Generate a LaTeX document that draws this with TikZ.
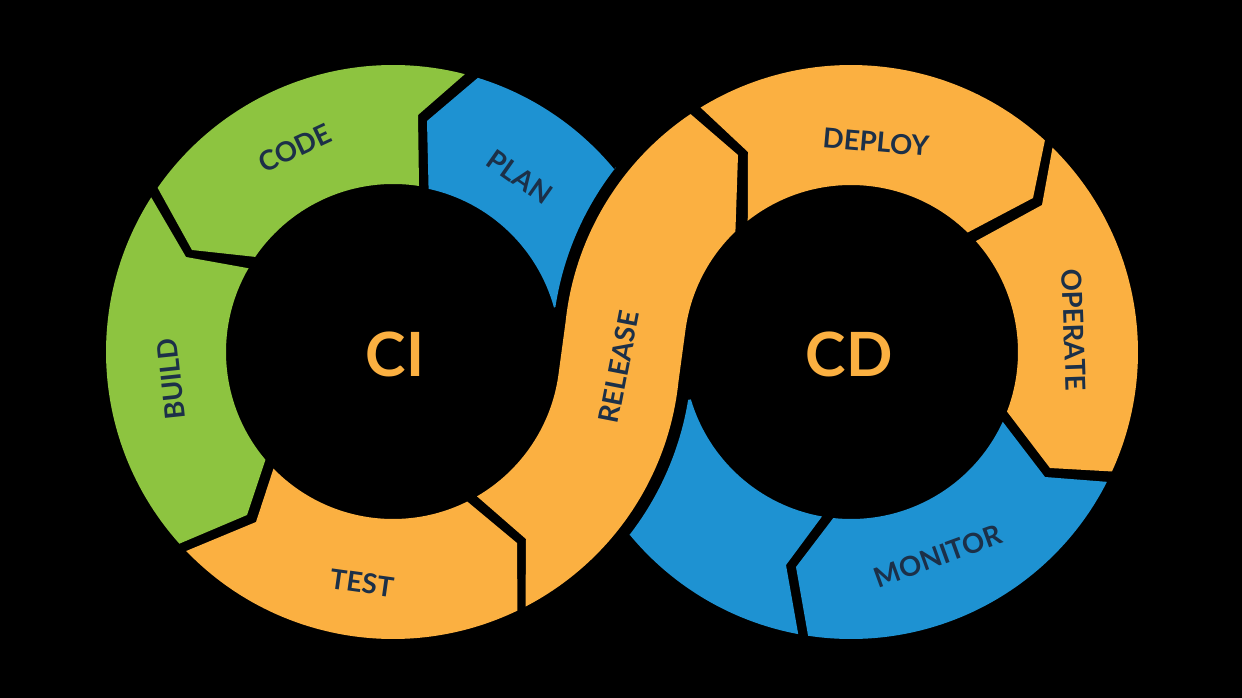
\documentclass[tikz,border=0pt]{standalone}
\usepackage{fontspec}
\setmainfont{Lato}[BoldFont={Lato Bold}]

\definecolor{leafgreen}{RGB}{141,196,64}
\definecolor{skyblue}{RGB}{30,146,210}
\definecolor{amber}{RGB}{251,176,65}
\definecolor{navy}{RGB}{28,48,72}

\begin{document}
\begin{tikzpicture}[x=1pt,y=-1pt]

\tikzset{
  SegLabel/.style = { text = navy, inner sep = 0pt, font = \fontsize{27.5}{27.5}\selectfont\bfseries },
  RingLabel/.style = { text = amber, inner sep = 0pt, font = \fontsize{61}{61}\selectfont\bfseries } }

  \def\Ro{287}
  \def\Ri{167}
  \def\Rg{299}

  \fill[black] (0, 0) rectangle (1242, 698);

  \coordinate (ci) at (393, 352);
  \coordinate (cd) at (851, 352);

  % left ring
  \fill[leafgreen] ([shift={(214.9:\Ro)}]ci) arc[start angle=214.9, end angle=284.5, radius=\Ro]
    -- (418, 115) -- (419, 186)
    arc[start angle=278.9, end angle=214.3, radius=\Ri]
    -- (192, 250) -- cycle;
  \fill[skyblue] ([shift={(287.2:\Ro)}]ci) arc[start angle=287.2, end angle=320.5, radius=\Ro]
    -- ([shift={(218.2:\Rg)}]cd) arc[start angle=218.2, end angle=188.7, radius=\Rg]
    -- ([shift={(344.6:\Ri)}]ci) arc[start angle=344.6, end angle=282.3, radius=\Ri]
    -- (427, 121) -- cycle;
  \fill[leafgreen] ([shift={(138.1:\Ro)}]ci) arc[start angle=138.1, end angle=212.6, radius=\Ro]
    -- (186, 257) -- ([shift={(210.1:\Ri)}]ci) arc[start angle=210.1, end angle=139.8, radius=\Ri]
    -- (247, 515) -- cycle;
  \fill[amber] ([shift={(64.3:\Ro)}]ci) arc[start angle=64.3, end angle=136.1, radius=\Ro]
    -- (256, 522) -- ([shift={(135.7:\Ri)}]ci) arc[start angle=135.7, end angle=63.6, radius=\Ri]
    -- (517, 543) -- cycle;

  % s-shaped part
  \fill[amber] ([shift={(59.8:\Ri)}]ci) arc[start angle=59.8, end angle=8, radius=\Ri]
    -- ([shift={(186:\Ro)}]cd) arc[start angle=186, end angle=236, radius=\Ro]
    -- (738, 155) -- ([shift={(226.2:\Ri)}]cd) arc[start angle=226.2, end angle=188, radius=\Ri]
    -- ([shift={(6:\Ro)}]ci) arc[start angle=6, end angle=62.5, radius=\Ro]
    -- (526, 539) -- cycle;

  % right ring
  \fill[amber] ([shift={(238.4:\Ro)}]cd) arc[start angle=238.4, end angle=312.5, radius=\Ro]
    -- (1033, 198) -- ([shift={(314.3:\Ri)}]cd) arc[start angle=314.3, end angle=231.8, radius=\Ri]
    -- (748, 152) -- cycle;
  \fill[amber] ([shift={(-45.4:\Ro)}]cd) arc[start angle=-45.4, end angle=24.6, radius=\Ro]
    -- (1050, 468) -- ([shift={(20.9:\Ri)}]cd) arc[start angle=20.9, end angle=-41.6, radius=\Ri]
    -- (1042, 205) -- cycle;
  \fill[skyblue] ([shift={(26.9:\Ro)}]cd) arc[start angle=26.9, end angle=98.6, radius=\Ro]
    -- (796, 567) -- ([shift={(96.1:\Ri)}]cd) arc[start angle=96.1, end angle=24.7, radius=\Ri]
    -- (1045, 477) -- cycle;
  \fill[skyblue] ([shift={(100.6:\Ro)}]cd) arc[start angle=100.6, end angle=140.5, radius=\Ro]
    -- ([shift={(37.8:\Rg)}]ci) arc[start angle=37.8, end angle=9.2, radius=\Rg]
    -- ([shift={(163.5:\Ri)}]cd) arc[start angle=163.5, end angle=100, radius=\Ri]
    -- (786, 565) -- cycle;

  \node[SegLabel, rotate=25] (code) at (295, 148) {CODE};
  \node[SegLabel, rotate=-35] (plan) at (520, 177) {PLAN};
  \node[SegLabel, rotate=96] (build) at (171, 379) {BUILD};
  \node[SegLabel, rotate=-8] (test) at (362, 583) {TEST};
  \node[SegLabel, rotate=79] (release) at (619, 367) {RELEASE};
  \node[SegLabel, rotate=-5] (deploy) at (876, 142) {DEPLOY};
  \node[SegLabel, rotate=-88] (operate) at (1074, 330) {OPERATE};
  \node[SegLabel, rotate=20] (monitor) at (938, 556) {MONITOR};

  \node[RingLabel] (cilabel) at (395, 354.5) {CI};
  \node[RingLabel] (cdlabel) at (849, 354.5) {CD};

\end{tikzpicture}
\end{document}
